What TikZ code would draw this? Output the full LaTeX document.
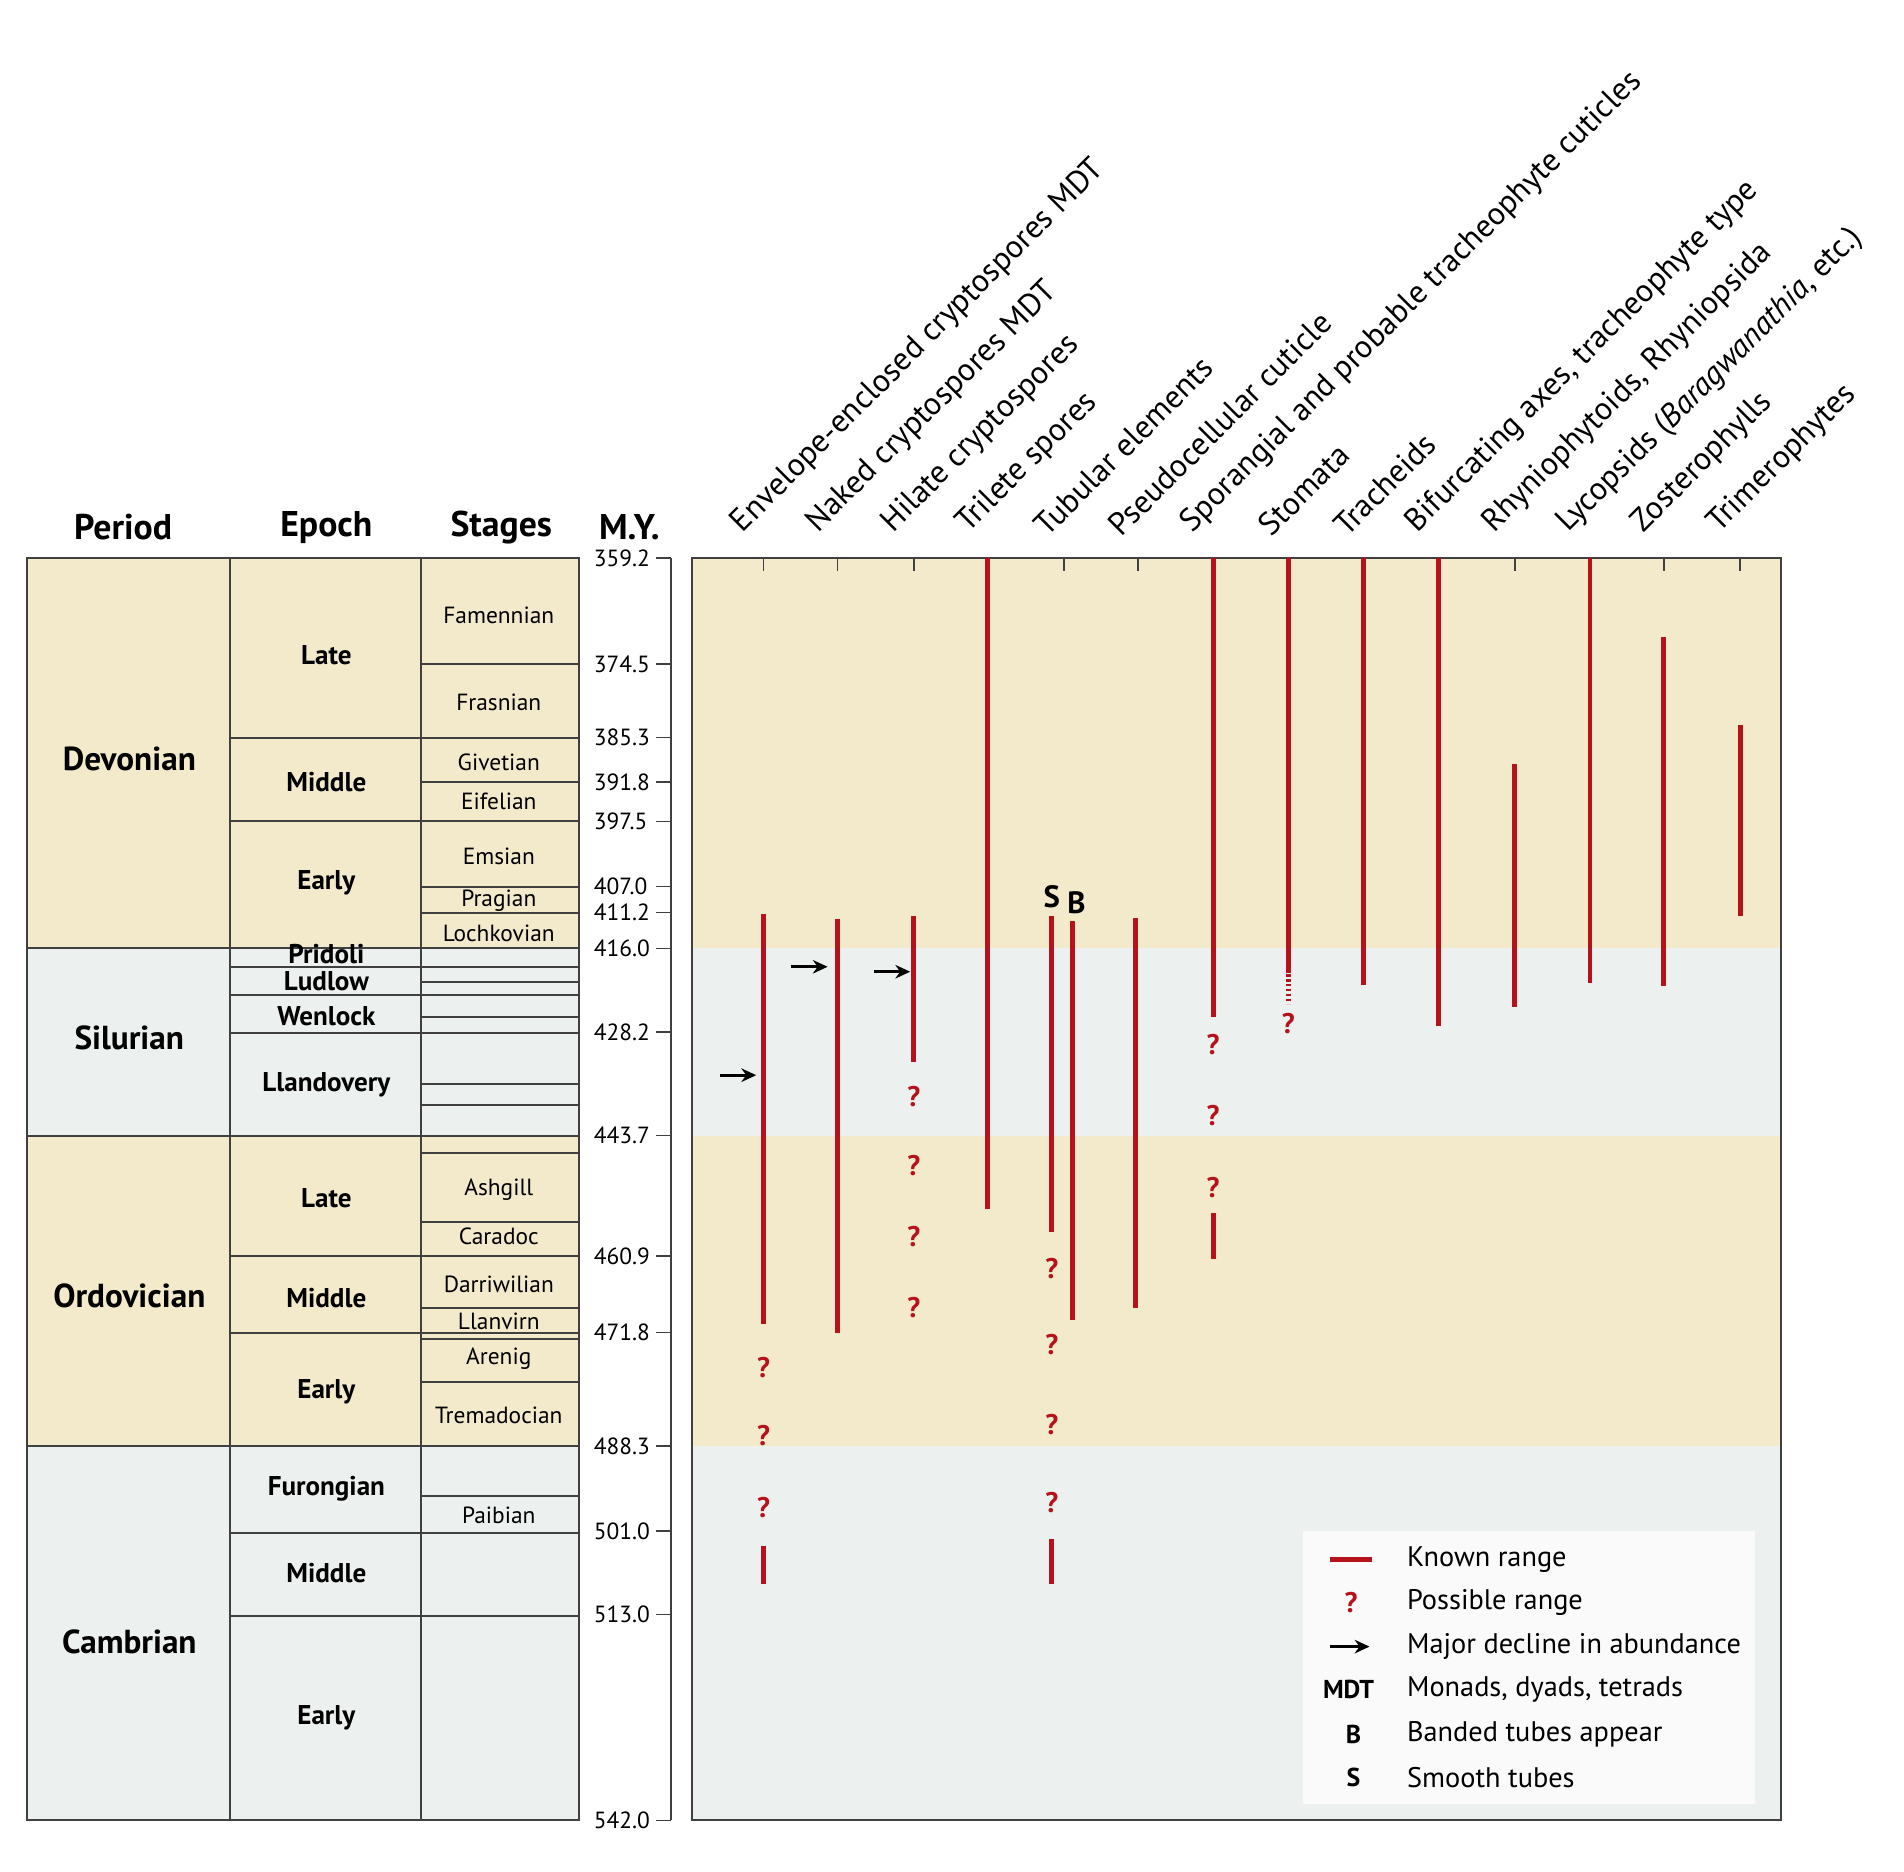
\documentclass[tikz,border=0pt]{standalone}
\usepackage{fontspec}
\usetikzlibrary{arrows.meta}
\setmainfont{PT Sans}
\newfontfamily\figfont{Liberation Serif}
\begin{document}
\begin{tikzpicture}[x=1pt,y=-1pt,
  hdr/.style={font=\fontsize{29}{30}\selectfont\bfseries},
  per/.style={font=\fontsize{27}{28}\selectfont\bfseries},
  epo/.style={font=\fontsize{22}{23}\selectfont\bfseries},
  stg/.style={font=\fontsize{19}{20}\selectfont},
  my/.style={font=\fontsize{19}{19}\selectfont,anchor=west,inner sep=1pt},
  col/.style={font=\fontsize{26}{26}\selectfont,anchor=south west,rotate=45,inner sep=0},
  rng/.style={draw=redc,line width=4pt},
  qm/.style={font=\fontsize{23}{24}\selectfont\bfseries,text=redc},
  grid/.style={draw=black!75,line width=1.6pt},
  arr/.style={-{Stealth[length=12pt,width=11pt]},line width=2.2pt},
  leg/.style={font=\fontsize{23}{24}\selectfont,anchor=west}]
\definecolor{redc}{HTML}{B5121B}
\definecolor{tan}{HTML}{F3EACB}
\definecolor{pale}{HTML}{ECF0EE}
\definecolor{figblue}{HTML}{1E7BC4}
\useasboundingbox (0,0) rectangle (1546,1520);
% bands
\foreach \a/\b/\c in {453/770/tan,770/922/pale,922/1174/tan,1174/1478/pale}{
  \fill[\c] (22,\a) rectangle (470,\b);
  \fill[\c] (562,\a) rectangle (1446,\b);}
% left table frame
\draw[grid] (22,453) rectangle (470,1478);
\draw[grid] (187,453) -- (187,1478);
\draw[grid] (342,453) -- (342,1478);
\draw[grid] (545,453) -- (545,1478);
\foreach \y in {770,922,1174}{\draw[grid] (22,\y) -- (470,\y);}
\foreach \y in {599,667,785,808,839,1020,1082,1245,1312}{\draw[grid] (187,\y) -- (470,\y);}
\foreach \y in {539,635,720,741,797,826,880,897,936,992,1062,1087,1122,1215}{\draw[grid] (342,\y) -- (470,\y);}
% MY ticks
\foreach \y/\t in {453/359.2,539/374.5,599/385.3,635/391.8,667/397.5,720/407.0,741/411.2,770/416.0,838/428.2,922/443.7,1020/460.9,1082/471.8,1174/488.3,1243/501.0,1311/513.0,1478/542.0}{
  \draw[grid,line width=1.2pt] (533,\y) -- (545,\y);
  \node[my] at (481,\y) {\t};}
% headers
\node[hdr] (hp) at (100,428) {Period};
\node[hdr] (he) at (265,428) {Epoch};
\node[hdr] (hs) at (407,428) {Stages};
\node[hdr] (hm) at (511,428) {M.Y.};
% periods
\node[per] at (105,616) {Devonian};
\node[per] at (105,843) {Silurian};
\node[per] at (105,1052) {Ordovician};
\node[per] at (105,1333) {Cambrian};
% epochs
\foreach \y/\t in {532/Late,635/Middle,717/Early,775/Pridoli,797/Ludlow,825/Wenlock,881/Llandovery,973/Late,1054/Middle,1130/Early,1209/Furongian,1277/Middle,1395/Early}{\node[epo] at (265,\y) {\t};}
% stages
\foreach \y/\t in {500/Famennian,570/Frasnian,619/Givetian,651/Eifelian,695/Emsian,731/Pragian,758/Lochkovian,966/Ashgill,1004/Caradoc,1043/Darriwilian,1073/Llanvirn,1103/Arenig,1149/Tremadocian,1230/Paibian}{\node[stg] at (405,\y) {\t};}
% right panel frame
\draw[grid] (562,453) rectangle (1446,1478);
\foreach \x in {620,680,742,802,864,924,985,1046,1107,1168,1230,1291,1351,1413}{\draw[grid,line width=1.2pt] (\x,453) -- (\x,464);}
% column labels
\node[col] at (607,437) {Envelope-enclosed cryptospores MDT};
\node[col] at (668,437) {Naked cryptospores MDT};
\node[col] at (729,437) {Hilate cryptospores};
\node[col] at (790,437) {Trilete spores};
\node[col] at (851,437) {Tubular elements};
\node[col] at (911,437) {Pseudocellular cuticle};
\node[col] at (972,437) {Sporangial and probable tracheophyte cuticles};
\node[col] at (1033,437) {Stomata};
\node[col] at (1094,437) {Tracheids};
\node[col] at (1155,437) {Bifurcating axes, tracheophyte type};
\node[col] at (1217,437) {Rhyniophytoids, Rhyniopsida};
\node[col] at (1278,437) {Lycopsids (\textit{Baragwanathia}, etc.)};
\node[col] at (1338,437) {Zosterophylls};
\node[col] at (1400,437) {Trimerophytes};
% ranges
\foreach \x/\a/\b in {620/742/1075,620/1255/1286,680/746/1082,742/744/862,802/453/982,854/744/1000,854/1250/1286,871/748/1072,922/745/1062,985/453/826,985/985/1022,1046/453/790,1107/453/800,1168/453/833,1230/620/818,1291/453/798,1351/517/801,1413/589/744}{\draw[rng] (\x,\a) -- (\x,\b);}
\draw[draw=redc,line width=4pt,dash pattern=on 2pt off 2pt] (1046,791) -- (1046,815);
% question marks
\foreach \x/\y in {620/1110,620/1166,620/1224,742/890,742/946,742/1004,742/1062,854/1030,854/1092,854/1157,854/1220,985/848,985/906,985/964,1046/831}{\node[qm] at (\x,\y) {?};}
% S, B
\node[font=\fontsize{25}{26}\selectfont\bfseries] at (854,728) {S};
\node[font=\fontsize{25}{26}\selectfont\bfseries] at (874,733) {B};
% arrows
\draw[arr] (585,873) -- (614,873);
\draw[arr] (642,785) -- (672,785);
\draw[arr] (710,789) -- (739,789);
% legend
\fill[white,opacity=0.7] (1058,1243) rectangle (1425,1465);
\draw[rng] (1080,1266) -- (1114,1266);
\node[leg] at (1139,1266) {Known range};
\node[qm] at (1097,1301) {?};
\node[leg] at (1139,1301) {Possible range};
\draw[arr] (1080,1337) -- (1112,1337);
\node[leg] at (1139,1337) {Major decline in abundance};
\node[font=\fontsize{21}{23}\selectfont\bfseries] at (1095,1372) {MDT};
\node[leg] at (1139,1372) {Monads, dyads, tetrads};
\node[font=\fontsize{21}{23}\selectfont\bfseries] at (1099,1408) {B};
\node[leg] at (1139,1408) {Banded tubes appear};
\node[font=\fontsize{21}{23}\selectfont\bfseries] at (1099,1443) {S};
\node[leg] at (1139,1443) {Smooth tubes};
% figure caption
\node[anchor=base west,text=figblue,font=\figfont\fontsize{26}{28}\selectfont\bfseries,inner sep=0] at (5,1540) {Figure 1};
\end{tikzpicture}
\end{document}
